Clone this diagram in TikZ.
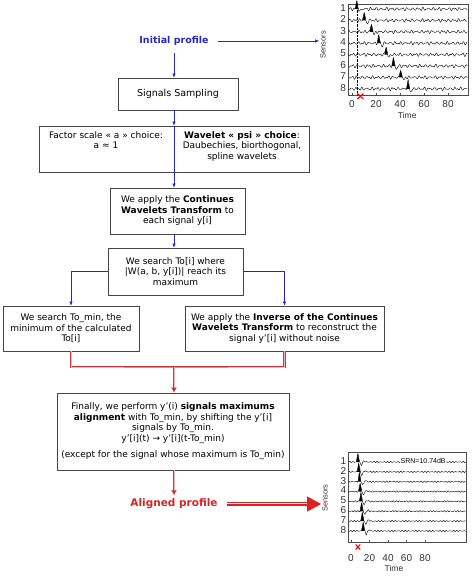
\documentclass[tikz,border=0pt]{standalone}
\usepackage{fontspec}
\setmainfont{DejaVu Sans}
\newfontfamily\plotfont{Liberation Sans}
\usetikzlibrary{arrows.meta}

\definecolor{flowblue}{RGB}{40,40,190}
\definecolor{flowred}{RGB}{215,35,35}
\definecolor{linkred}{RGB}{200,55,55}
\definecolor{linkpink}{RGB}{240,185,185}
\definecolor{boxgray}{RGB}{70,70,70}

\tikzset{
  stepbox/.style={draw=boxgray, line width=0.7pt, align=center, inner sep=2pt,
    font=\fontsize{9}{10.5}\selectfont},
  steptext/.style={align=center, inner sep=0pt, font=\fontsize{9}{10.5}\selectfont},
  bluearrow/.style={draw=flowblue, line width=0.6pt, -{Latex[length=4pt,width=3.5pt]}},
  blueline/.style={draw=flowblue, line width=0.6pt},
  redline/.style={draw=linkred, double=linkpink, double distance=0.9pt, line width=1pt},
  redarrow/.style={redline, -{Latex[length=5pt,width=6pt]}},
  bigarrow/.style={draw=flowred, double=white, double distance=2.4pt, line width=0.9pt,
    -{Triangle[length=14pt,width=15pt]}},
  trace/.style={black, line width=0.4pt},
  plotframe/.style={draw=gray!60!black, line width=0.5pt},
  ticklabel/.style={font=\plotfont\fontsize{10}{10}\selectfont, text=black!80},
  timelabel/.style={font=\plotfont\fontsize{8.5}{8.5}\selectfont, text=black!80},
  sensorlabel/.style={font=\plotfont\fontsize{7.5}{7.5}\selectfont, rotate=90, text=black!80, inner sep=1pt},
  redcross/.style={draw=red, line width=1.1pt}
}

\begin{document}
\begin{tikzpicture}[x=1pt, y=-1pt]
  \useasboundingbox (0,0) rectangle (474,576);

  \node[font=\bfseries\fontsize{9.5}{11}\selectfont, text=flowblue] (init) at (174,41) {Initial profile};
  \node[stepbox, minimum width=120pt, minimum height=32pt, font=\fontsize{9.5}{11}\selectfont] (ss) at (178,94) {Signals Sampling};
  \node[stepbox, minimum width=270pt, minimum height=46pt] (choice) at (174,149) {};
  \node[steptext, anchor=north] (scale) at (106,131) {Factor scale « a » choice:\\ a ≈ 1};
  \node[steptext, anchor=north] (psi) at (242,131) {\textbf{Wavelet « psi » choice}:\\ Daubechies, biorthogonal,\\ spline wavelets};
  \node[stepbox, minimum width=135pt, minimum height=46pt] (cwt) at (177.5,211)
    {We apply the \textbf{Continues}\\ \textbf{Wavelets Transform} to\\ each signal y[i]};
  \node[stepbox, minimum width=135pt, minimum height=47pt] (search) at (175.5,271.5)
    {We search To[i] where\\ |W(a, b, y[i])| reach its\\ maximum};
  \node[stepbox, minimum width=136pt, minimum height=45pt] (tomin) at (71,328.5)
    {We search To\_min, the\\ minimum of the calculated\\ To[i]};
  \node[stepbox, minimum width=199pt, minimum height=45pt] (icwt) at (284.5,328.5)
    {We apply the \textbf{Inverse of the Continues}\\ \textbf{Wavelets Transform} to reconstruct the\\ signal y'[i] without noise};
  \node[stepbox, minimum width=232pt, minimum height=77pt] (align) at (173,431.5)
    {Finally, we perform y'(i) \textbf{signals maximums}\\ \textbf{alignment} with To\_min, by shifting the y'[i]\\ signals by To\_min.\\ y'[i](t) → y'[i](t-To\_min)\\[6pt] (except for the signal whose maximum is To\_min)};
  \node[font=\bfseries\fontsize{10.5}{12}\selectfont, text=flowred] (aligned) at (174,504) {Aligned profile};

  \node[sensorlabel] (sens1) at (323,45) {Sensors};
  \node[sensorlabel] (sens2) at (325,498) {Sensors};

  \draw[bluearrow, shorten <=6pt] (init) -- (init -| sens1.north);
  \draw[bluearrow, shorten <=4pt] (init) -- (init |- ss.north);
  \draw[bluearrow] (ss.south -| init) -- (init |- choice.north);
  \draw[blueline] (choice.north) -- (choice.south);
  \draw[bluearrow] (choice.south) -- (choice.south |- cwt.north);
  \draw[bluearrow] (cwt.south -| choice.south) -- (choice.south |- search.north);
  \draw[bluearrow] (search.west) -| (tomin.north);
  \draw[bluearrow] (search.east) -| (icwt.north);

  \coordinate (join) at (174,367);
  \draw[redline] (tomin.south) |- (join) -| (icwt.south);
  \draw[redarrow] (join) -- (join |- align.north);
  \draw[redarrow] (align.south -| join) -- (join |- aligned.north);
  \draw[bigarrow, shorten <=6pt] (aligned) -- (aligned -| sens2.north);
  \draw[flowred, line width=0.8pt, shorten <=6pt, shorten >=12pt] (aligned) -- (aligned -| sens2.north);

  % initial profile
  \begin{scope}[shift={(352,0)}, x=1.2pt]
    \draw[plotframe] (-3.3,4) rectangle (96.5,95);
    \draw[densely dotted, line width=0.4pt] (4,4) -- (4,95);
    \foreach \i in {1,...,8} {
      \pgfmathsetmacro{\basey}{9+11.4*(\i-1)}
      \pgfmathsetmacro{\peakt}{4+6.1*(\i-1)}
      \draw[trace] plot[domain=-2.8:96, samples=260]
        (\x, {\basey + 0.9*sin(\x*83+\i*40) + 0.6*sin(\x*131+\i*77) + 0.4*sin(\x*157+\i*13)
          - 8*max(0,1-abs(\x-\peakt)/1.5) + 3*max(0,1-abs(\x-\peakt-2.5)/1.5)});
      \fill (\peakt-1.4,\basey) -- (\peakt,\basey-8) -- (\peakt+1.4,\basey) -- cycle;
      \node[ticklabel, anchor=east, inner sep=1pt] at (-4,\basey-1) {\i};
    }
    \foreach \t in {0,20,...,80} {
      \draw[plotframe] (\t,95) -- (\t,93);
      \node[ticklabel] at (\t,104) {\t};
    }
    \node[timelabel] at (46,115) {Time};
    \draw[redcross] (4.5,93.5) -- (9.5,99) (4.5,99) -- (9.5,93.5);
  \end{scope}

  % aligned profile
  \begin{scope}[shift={(351,0)}, x=0.925pt]
    \draw[plotframe] (-3.2,452) rectangle (125,542);
    \foreach \i in {1,...,8} {
      \pgfmathsetmacro{\basey}{462+9.85*(\i-1)}
      \pgfmathsetmacro{\peakt}{7.5+0.8*(\i-1)}
      \draw[trace] plot[domain=-2.5:124, samples=260]
        (\x, {\basey + 0.45*sin(\x*97+\i*40) + 0.3*sin(\x*123+\i*77)
          - 9*max(0,1-abs(\x-\peakt)/1.8) + 3.5*max(0,1-abs(\x-\peakt-3.5)/1.8)
          - 1*max(0,1-abs(\x-\peakt-7)/2)});
      \fill (\peakt-1.7,\basey) -- (\peakt,\basey-9) -- (\peakt+1.7,\basey) -- cycle;
      \node[ticklabel, anchor=east, inner sep=1pt] at (-4,\basey-1) {\i};
    }
    \foreach \t in {0,20,...,80} {
      \draw[plotframe] (\t,542) -- (\t,540);
      \node[ticklabel] at (\t,558) {\t};
    }
    \node[timelabel] at (46.5,568) {Time};
    \node[font=\plotfont\fontsize{7}{7}\selectfont, fill=white, inner sep=0.8pt] (srn) at (78,461) {SRN=10.74dB};
    \draw[redcross] (5,544.5) -- (10,549.5) (5,549.5) -- (10,544.5);
  \end{scope}
\end{tikzpicture}
\end{document}
